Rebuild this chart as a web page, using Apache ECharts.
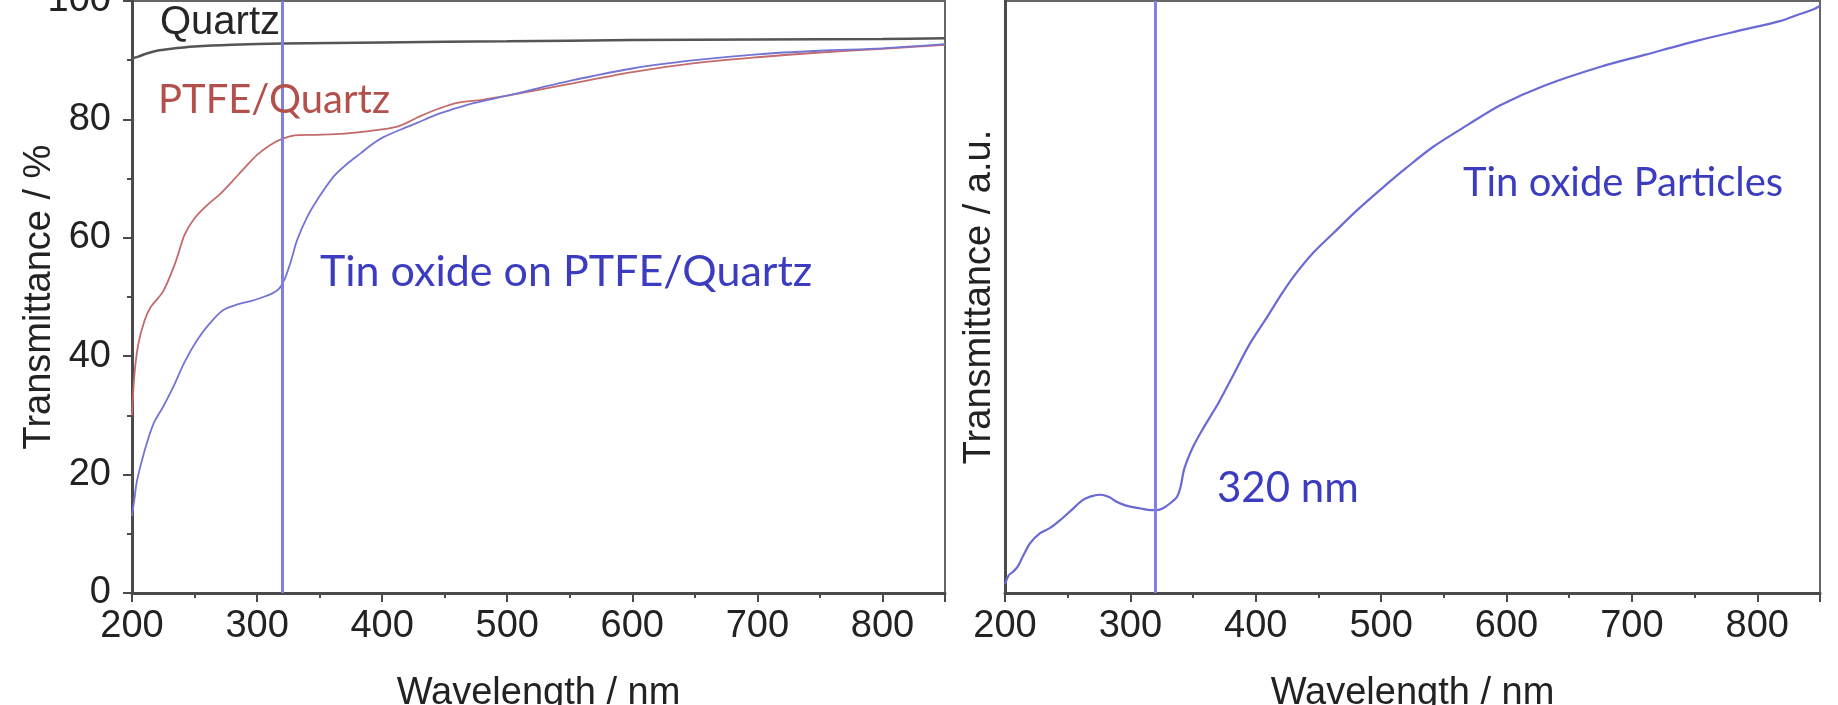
<!DOCTYPE html>
<html>
<head>
<meta charset="utf-8">
<script src="https://cdn.jsdelivr.net/npm/echarts@6/dist/echarts.min.js"></script>
<style>
html,body{margin:0;padding:0;background:#fff;}
#chart{width:1838px;height:705px;}
</style>
</head>
<body>
<div id="chart"></div>
<script>
// ---- Data ----
const markerWavelength = 320;

const quartzNm  = [200, 205, 210, 220, 230, 250, 280, 320, 400, 500, 600, 700, 800, 850];
const quartzT   = [90.3, 90.6, 91.0, 91.6, 91.9, 92.3, 92.6, 92.8, 93.0, 93.2, 93.4, 93.5, 93.6, 93.7];

const ptfeNm = [200, 202, 205, 210, 215, 225, 235, 242, 250, 260, 270, 280, 290, 300, 310, 320, 330, 345, 370, 400, 415, 430, 445, 460, 480, 500, 550, 600, 650, 700, 750, 800, 850];
const ptfeT  = [30, 37, 42, 46, 48.3, 51, 56, 60.5, 63.3, 65.5, 67.3, 69.5, 71.8, 74, 75.6, 76.7, 77.3, 77.4, 77.6, 78.3, 79, 80.5, 81.8, 82.8, 83.3, 84, 86, 88, 89.5, 90.5, 91.3, 91.9, 92.6];

const tinNm = [200, 202, 204, 210, 217, 225, 233, 242, 252, 262, 273, 285, 295, 305, 313, 318, 322, 327, 332, 340, 348, 361, 372, 383, 392, 401, 415, 428, 441, 455, 470, 500, 550, 600, 650, 700, 750, 800, 850];
const tinT  = [13, 16, 19, 24, 28.5, 31.5, 34.8, 39, 42.7, 45.5, 47.8, 48.8, 49.3, 50, 50.7, 51.5, 53, 56, 59.6, 63.5, 66.4, 70.3, 72.5, 74.3, 75.8, 77, 78.3, 79.4, 80.6, 81.6, 82.6, 84, 86.5, 88.6, 90, 91, 91.6, 92, 92.7];

const particlesNm = [200, 203, 206, 210, 215, 220, 228, 236, 244, 253, 262, 270, 276, 283, 289, 296, 302, 310, 316, 321, 326, 332, 337, 340, 343, 350, 358, 370, 382, 395, 409, 420, 430, 446, 462, 480, 502, 520, 541, 570, 595, 630, 675, 710, 754, 790, 818, 834, 845, 850];
const particlesT  = [1.5, 3, 3.5, 4.4, 6.5, 8.4, 10.1, 11, 12.3, 14, 15.7, 16.4, 16.6, 16.2, 15.4, 14.8, 14.5, 14.2, 14, 14, 14.3, 15.2, 16.2, 17.9, 21, 24.7, 27.8, 32, 36.8, 42, 46.6, 50.3, 53.4, 57.5, 60.8, 64.5, 68.6, 71.8, 75.3, 79.2, 82.4, 85.7, 88.9, 90.9, 93.4, 95.2, 96.6, 97.8, 98.6, 99.2];

const xTickLabels = [200, 300, 400, 500, 600, 700, 800];
const yTickLabels = [0, 20, 40, 60, 80, 100];

const xTitle = 'Wavelength / nm';
const yTitleLeft = 'Transmittance / %';
const yTitleRight = 'Transmittance / a.u.';

// ---- helpers ----
const zip = (xs, ys) => xs.map((x, i) => [x, ys[i]]);
const axisColor = '#4a4a4a';
const tickFont = '"Liberation Sans", Arial, sans-serif';
const annoFont = 'Lato, "Open Sans", sans-serif';

function xAxisCfg(gridIndex) {
  return {
    type: 'value', gridIndex, min: 200, max: 850, interval: 100,
    name: xTitle, nameLocation: 'middle', nameGap: 82, nameMoveOverlap: false,
    nameTextStyle: { fontFamily: tickFont, fontSize: 38, color: '#222' },
    axisLine: { show: true, onZero: false, lineStyle: { color: axisColor, width: 3 } },
    axisTick: { show: true, inside: false, length: 9, lineStyle: { color: axisColor, width: 2 } },
    minorTick: { show: true, splitNumber: 2, length: 5, lineStyle: { color: axisColor, width: 2 } },
    axisLabel: { show: true, margin: 15, fontFamily: tickFont, fontSize: 38, color: '#222',
      showMaxLabel: false,
      formatter: v => (xTickLabels.indexOf(v) >= 0 ? String(v) : '') },
    splitLine: { show: false }
  };
}

const chart = echarts.init(document.getElementById('chart'), null, { renderer: 'canvas' });

const option = {
  animation: false,
  backgroundColor: '#ffffff',
  grid: [
    { left: 132, top: 1, width: 813, height: 592, outerBoundsMode: 'none', containLabel: false, show: true, borderColor: '#666', borderWidth: 2, backgroundColor: 'transparent' },
    { left: 1005, top: 1, width: 815, height: 592, outerBoundsMode: 'none', containLabel: false, show: true, borderColor: '#666', borderWidth: 2, backgroundColor: 'transparent' }
  ],
  xAxis: [xAxisCfg(0), xAxisCfg(1)],
  yAxis: [
    {
      type: 'value', gridIndex: 0, min: 0, max: 100, interval: 20,
      name: yTitleLeft, nameLocation: 'middle', nameGap: 73, nameRotate: 90, nameMoveOverlap: false,
      nameTextStyle: { fontFamily: tickFont, fontSize: 38, color: '#222' },
      axisLine: { show: true, lineStyle: { color: axisColor, width: 3 } },
      axisTick: { show: true, inside: false, length: 9, lineStyle: { color: axisColor, width: 2 } },
      minorTick: { show: true, splitNumber: 2, length: 5, lineStyle: { color: axisColor, width: 2 } },
      axisLabel: { show: true, margin: 21, fontFamily: tickFont, fontSize: 38, color: '#222',
        formatter: v => (yTickLabels.indexOf(v) >= 0 ? String(v) : '') },
      splitLine: { show: false }
    },
    {
      type: 'value', gridIndex: 1, min: 0, max: 100,
      name: yTitleRight, nameLocation: 'middle', nameGap: 6, nameRotate: 90, nameMoveOverlap: false,
      nameTextStyle: { fontFamily: tickFont, fontSize: 38, color: '#222' },
      axisLine: { show: true, lineStyle: { color: axisColor, width: 3 } },
      axisTick: { show: false },
      axisLabel: { show: false },
      splitLine: { show: false }
    }
  ],
  series: [
    {
      name: 'Quartz', type: 'line', xAxisIndex: 0, yAxisIndex: 0,
      data: zip(quartzNm, quartzT), showSymbol: false, smooth: 0.3,
      lineStyle: { color: '#555555', width: 2.5 }, z: 3
    },
    {
      name: 'PTFE/Quartz', type: 'line', xAxisIndex: 0, yAxisIndex: 0,
      data: zip(ptfeNm, ptfeT), showSymbol: false, smooth: 0.3,
      lineStyle: { color: '#c46a6a', width: 1.8 }, z: 3
    },
    {
      name: 'Tin oxide on PTFE/Quartz', type: 'line', xAxisIndex: 0, yAxisIndex: 0,
      data: zip(tinNm, tinT), showSymbol: false, smooth: 0.3,
      lineStyle: { color: '#7474d4', width: 1.8 }, z: 4,
      markLine: {
        silent: true, symbol: 'none', label: { show: false },
        lineStyle: { color: '#7f7fe6', width: 3, type: 'solid' },
        data: [{ xAxis: markerWavelength }]
      }
    },
    {
      name: 'Tin oxide Particles', type: 'line', xAxisIndex: 1, yAxisIndex: 1,
      data: zip(particlesNm, particlesT), showSymbol: false, smooth: 0.3,
      lineStyle: { color: '#6a6ad6', width: 2.2 }, z: 4,
      markLine: {
        silent: true, symbol: 'none', label: { show: false },
        lineStyle: { color: '#7f7fe6', width: 3, type: 'solid' },
        data: [{ xAxis: markerWavelength }]
      }
    }
  ],
  graphic: [
    { type: 'text', x: 160, y: 23, z: 10, style: { text: 'Quartz', font: '40px "Liberation Sans", Arial, sans-serif', fill: '#262626', verticalAlign: 'middle' } },
    { type: 'text', x: 158, y: 100, z: 10, style: { text: 'PTFE/Quartz', font: '40px ' + annoFont, fill: '#b4504c', verticalAlign: 'middle' } },
    { type: 'text', x: 320, y: 272, z: 10, style: { text: 'Tin oxide on PTFE/Quartz', font: '43px ' + annoFont, fill: '#3c3cc0', verticalAlign: 'middle' } },
    { type: 'text', x: 1463, y: 183, z: 10, style: { text: 'Tin oxide Particles', font: '40px ' + annoFont, fill: '#3c3cc0', verticalAlign: 'middle' } },
    { type: 'text', x: 1217, y: 488, z: 10, style: { text: markerWavelength + ' nm', font: '42px ' + annoFont, fill: '#3c3cc0', verticalAlign: 'middle' } }
  ]
};

chart.setOption(option);
</script>
</body>
</html>
